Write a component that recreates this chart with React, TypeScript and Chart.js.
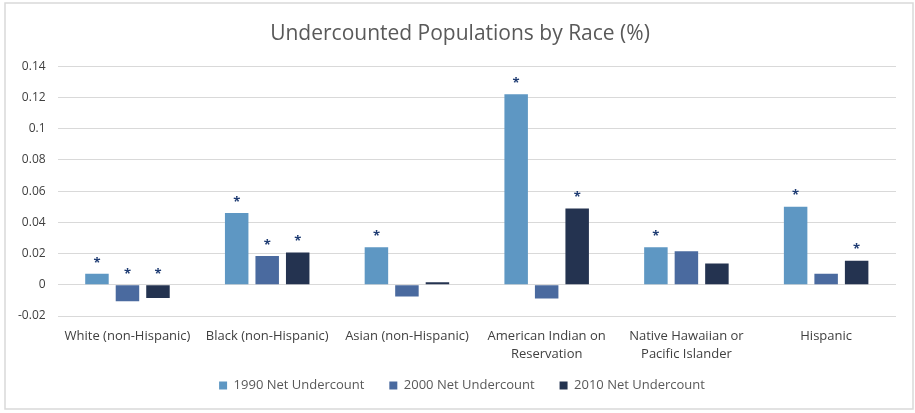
import React, { useEffect, useRef } from "react";
import { Chart, registerables } from "chart.js";

Chart.register(...registerables);

const categories: (string | string[])[] = [
  "White (non-Hispanic)",
  "Black (non-Hispanic)",
  "Asian (non-Hispanic)",
  ["American Indian on", "Reservation"],
  ["Native Hawaiian or", "Pacific Islander"],
  "Hispanic",
];

const seriesNames = ["1990 Net Undercount", "2000 Net Undercount", "2010 Net Undercount"];

const values1990 = [0.007, 0.046, 0.024, 0.122, 0.024, 0.05];
const values2000 = [-0.0106, 0.0184, -0.0075, -0.0088, 0.0214, 0.0071];
const values2010 = [-0.0084, 0.0207, 0.0016, 0.0488, 0.0136, 0.0154];

// significance markers (*)
const sig1990 = [true, true, true, true, true, true];
const sig2000 = [true, true, false, false, false, false];
const sig2010 = [true, true, false, true, false, true];

const colors = ["#5E97C3", "#4A6A9F", "#243350"];

const FONT = "'Open Sans', 'DejaVu Sans', sans-serif";

export default function App() {
  const ref = useRef<HTMLCanvasElement | null>(null);

  useEffect(() => {
    if (!ref.current) return;
    const sigs = [sig1990, sig2000, sig2010];

    const frame = {
      id: "frame",
      beforeDraw(chart: any) {
        const ctx = chart.ctx;
        ctx.save();
        ctx.fillStyle = "#ffffff";
        ctx.fillRect(0, 0, chart.width, chart.height);
        ctx.strokeStyle = "#d9d9d9";
        ctx.lineWidth = 1.5;
        ctx.strokeRect(5, 3, 908, 406);
        ctx.restore();
      },
    };

    // nudge title and legend horizontally to match the reference centring
    const nudge = {
      id: "nudge",
      afterLayout(chart: any) {
        const t = chart.titleBlock;
        if (t) {
          t.left += 9;
          t.right += 9;
        }
        const l = chart.legend;
        if (l) {
          l.left += 11;
          l.right += 11;
        }
      },
    };

    const stars = {
      id: "stars",
      afterDatasetsDraw(chart: any) {
        const ctx = chart.ctx;
        ctx.save();
        ctx.fillStyle = "#1F3C73";
        ctx.font = `bold 13px ${FONT}`;
        ctx.textAlign = "center";
        ctx.textBaseline = "middle";
        sigs.forEach((s, i) => {
          const meta = chart.getDatasetMeta(i);
          meta.data.forEach((bar: any, j: number) => {
            if (!s[j]) return;
            const top = Math.min(bar.y, bar.base);
            ctx.fillText("*", bar.x, top - 11);
          });
        });
        ctx.restore();
      },
    };

    const chart = new Chart(ref.current, {
      type: "bar",
      data: {
        labels: categories,
        datasets: [values1990, values2000, values2010].map((d, i) => ({
          label: seriesNames[i],
          data: d,
          backgroundColor: colors[i],
          borderWidth: 0,
          categoryPercentage: 0.655,
          barPercentage: 0.77,
        })),
      },
      options: {
        responsive: false,
        animation: false,
        layout: { padding: { left: 6, right: 19, top: 10, bottom: 11 } },
        plugins: {
          title: {
            display: true,
            text: "Undercounted Populations by Race (%)",
            color: "#595959",
            font: { family: FONT, size: 21, weight: "normal" },
            padding: { top: 11, bottom: 20 },
          },
          legend: {
            position: "bottom",
            labels: {
              boxWidth: 8,
              boxHeight: 8,
              padding: 8,
              color: "#595959",
              font: { family: FONT, size: 13 },
              generateLabels: (chart: any) => {
                const items = Chart.defaults.plugins.legend.labels.generateLabels(chart);
                return items.map((it: any, i: number) => ({
                  ...it,
                  text: i < items.length - 1 ? it.text + "     " : it.text,
                }));
              },
            },
          },
          tooltip: { enabled: false },
        },
        scales: {
          x: {
            grid: { display: false, drawTicks: false },
            border: { display: false },
            ticks: {
              color: "#404040",
              font: { family: FONT, size: 13, lineHeight: 1.4 },
              padding: 11,
              maxRotation: 0,
              autoSkip: false,
            },
            afterFit: (scale: any) => {
              scale.height = 55;
            },
          },
          y: {
            min: -0.02,
            max: 0.14,
            grid: { color: "#d9d9d9", drawTicks: false, lineWidth: 1 },
            border: { display: false },
            ticks: {
              stepSize: 0.02,
              padding: 12,
              color: "#404040",
              font: { family: FONT, size: 12 },
              callback: (v: any) => String(Number(Number(v).toFixed(2))),
            },
          },
        },
      },
      plugins: [frame, nudge, stars],
    });
    return () => chart.destroy();
  }, []);

  return (
    <div style={{ position: "absolute", left: 0, top: 0, width: 915, height: 413 }}>
      <canvas ref={ref} width={915} height={413} style={{ display: "block" }} />
    </div>
  );
}
